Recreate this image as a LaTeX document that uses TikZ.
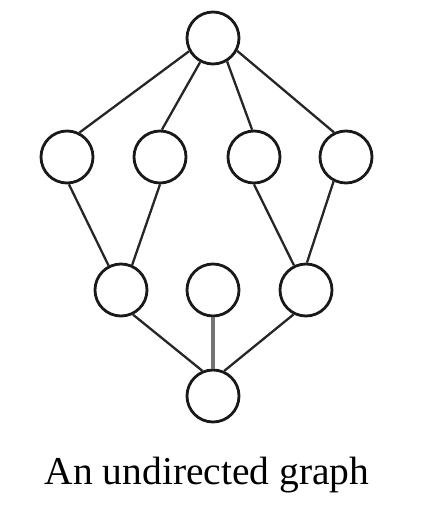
\documentclass[tikz,border=0pt]{standalone}
\usepackage{fontspec}
\setmainfont{Liberation Serif}
\begin{document}
\begin{tikzpicture}[x=1pt,y=-1pt,
  vert/.style={circle,draw=black!90,line width=2.8pt,minimum size=52pt,inner sep=0pt},
  edge/.style={line width=2.3pt,draw=black!85},
  grayedge/.style={line width=3.4pt,draw=black!55}]
\useasboundingbox (0,0) rectangle (441,525);
\node[vert] (t) at (213,38) {};
\node[vert] (a1) at (67,157) {};
\node[vert] (a2) at (160,157) {};
\node[vert] (a3) at (254,157) {};
\node[vert] (a4) at (346,157) {};
\node[vert] (b1) at (121,290) {};
\node[vert] (b2) at (213,290) {};
\node[vert] (b3) at (306,290) {};
\node[vert] (z) at (213,396) {};
\draw[edge] (t.209) -- (a1.63);
\draw[edge] (t.242) -- (a2.86);
\draw[edge] (t.301) -- (a3.94);
\draw[edge] (t.332) -- (a4.116);
\draw[edge] (a1.274) -- (b1.117);
\draw[edge] (a2.270) -- (b1.66);
\draw[edge] (a3.270) -- (b3.116);
\draw[edge] (a4.243) -- (b3.88);
\draw[edge] (b1.296) -- (z.113);
\draw[grayedge] (b2.south) -- (z.north);
\draw[edge] (b3.243) -- (z.66);
\node[anchor=base,font=\fontsize{39.5}{45}\selectfont,inner sep=0pt] (cap) at (207,484) {An undirected graph};
\end{tikzpicture}
\end{document}
